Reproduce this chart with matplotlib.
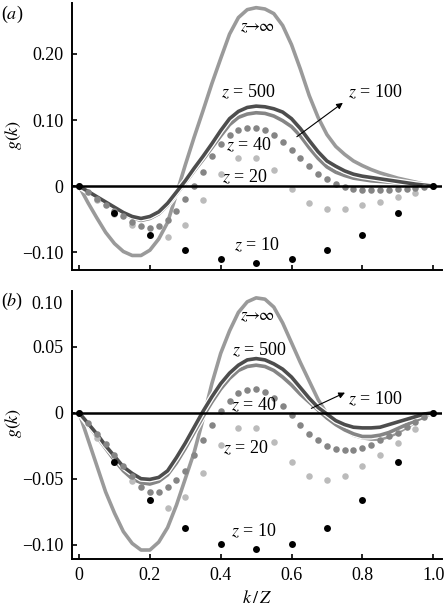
import numpy as np
import matplotlib
matplotlib.use('Agg')
import matplotlib.pyplot as plt
import matplotlib.patheffects as pe

plt.rcParams['font.family'] = ['Liberation Serif', 'DejaVu Serif']
plt.rcParams['mathtext.fontset'] = 'stix'

# k/Z grids: z=10 -> 11 points, z=20 -> 21 points, z=40 and curves -> 41 points
k10 = np.linspace(0, 1, 11)
k20 = np.linspace(0, 1, 21)
k40 = np.linspace(0, 1, 41)

#==============================================================================
# panel (a)
a_inf = [0, -0.025, -0.048, -0.070, -0.087, -0.099, -0.105, -0.105, -0.097, -0.080,
         -0.055, -0.012, 0.032, 0.074, 0.114, 0.155, 0.193, 0.230, 0.255, 0.267,
         0.270, 0.268, 0.261, 0.243, 0.214, 0.177, 0.137, 0.104, 0.078, 0.060,
         0.048, 0.038, 0.031, 0.025, 0.020, 0.016, 0.012, 0.009, 0.006, 0.003, 0]
a_500 = [0, -0.008, -0.016, -0.024, -0.032, -0.040, -0.046, -0.049, -0.046, -0.039,
         -0.026, -0.009, 0.008, 0.027, 0.045, 0.064, 0.084, 0.102, 0.113, 0.119,
         0.121, 0.120, 0.117, 0.112, 0.102, 0.087, 0.069, 0.052, 0.038, 0.030,
         0.023, 0.018, 0.015, 0.013, 0.011, 0.009, 0.007, 0.005, 0.003, 0.0015, 0]
a_100 = [0, -0.009, -0.018, -0.026, -0.034, -0.042, -0.048, -0.052, -0.049, -0.042,
         -0.029, -0.012, 0.005, 0.023, 0.040, 0.058, 0.076, 0.093, 0.104, 0.109,
         0.111, 0.110, 0.106, 0.099, 0.090, 0.076, 0.058, 0.042, 0.029, 0.021,
         0.016, 0.012, 0.010, 0.008, 0.007, 0.006, 0.005, 0.004, 0.002, 0.001, 0]
a_40 = [0, -0.009, -0.019, -0.028, -0.037, -0.046, -0.054, -0.060, -0.064, -0.061,
        -0.052, -0.037, -0.020, 0.000, 0.022, 0.045, 0.064, 0.077, 0.085, 0.088,
        0.088, 0.085, 0.077, 0.066, 0.055, 0.042, 0.031, 0.019, 0.010, 0.003,
        -0.002, -0.005, -0.006, -0.006, -0.006, -0.006, -0.005, -0.004, -0.003, -0.001, 0]
a_20 = [0, -0.021, -0.042, -0.059, -0.074, -0.077, -0.059, -0.021, 0.019, 0.043,
        0.043, 0.024, -0.004, -0.025, -0.035, -0.035, -0.029, -0.024, -0.016, -0.010, 0]
a_10 = [0, -0.041, -0.074, -0.097, -0.111, -0.116, -0.111, -0.097, -0.074, -0.041, 0]

# panel (b)
b_inf = [0, -0.020, -0.040, -0.060, -0.076, -0.090, -0.099, -0.104, -0.104, -0.098,
         -0.087, -0.070, -0.050, -0.030, -0.005, 0.022, 0.045, 0.062, 0.076, 0.084,
         0.087, 0.086, 0.080, 0.068, 0.053, 0.038, 0.024, 0.010, -0.001, -0.008,
         -0.013, -0.017, -0.019, -0.020, -0.020, -0.018, -0.015, -0.011, -0.007, -0.003, 0]
b_500 = [0, -0.008, -0.016, -0.025, -0.033, -0.041, -0.046, -0.050, -0.0505, -0.049,
         -0.044, -0.034, -0.023, -0.011, 0.001, 0.012, 0.022, 0.030, 0.036, 0.040,
         0.041, 0.040, 0.037, 0.033, 0.027, 0.019, 0.011, 0.004, -0.001, -0.006,
         -0.009, -0.011, -0.0115, -0.0115, -0.011, -0.009, -0.007, -0.005, -0.003, -0.001, 0]
b_100 = [0, -0.009, -0.018, -0.027, -0.036, -0.044, -0.050, -0.053, -0.054, -0.052,
         -0.047, -0.038, -0.027, -0.015, -0.003, 0.008, 0.018, 0.026, 0.032, 0.035,
         0.036, 0.035, 0.032, 0.027, 0.021, 0.014, 0.008, 0.002, -0.004, -0.009,
         -0.013, -0.016, -0.018, -0.018, -0.017, -0.015, -0.012, -0.009, -0.006, -0.003, 0]
b_40 = [0, -0.008, -0.016, -0.024, -0.032, -0.040, -0.048, -0.056, -0.060, -0.060,
        -0.056, -0.051, -0.044, -0.032, -0.021, -0.009, 0.001, 0.009, 0.015, 0.017,
        0.018, 0.016, 0.011, 0.005, -0.002, -0.009, -0.016, -0.021, -0.025, -0.0275,
        -0.028, -0.028, -0.0265, -0.0245, -0.021, -0.018, -0.015, -0.011, -0.007, -0.003, 0]
b_20 = [0, -0.019, -0.037, -0.052, -0.066, -0.072, -0.064, -0.046, -0.0245, -0.0114,
        -0.0114, -0.022, -0.0376, -0.048, -0.051, -0.0477, -0.040, -0.032, -0.0227, -0.012, 0]
b_10 = [0, -0.037, -0.066, -0.087, -0.0995, -0.1035, -0.0995, -0.087, -0.066, -0.037, 0]

xticks = [0, 0.2, 0.4, 0.6, 0.8, 1.0]
xticklabels = ['0', '0.2', '0.4', '0.6', '0.8', '1.0']

C_INF = '#9a9a9a'
C_500 = '#4d4d4d'
C_100 = '#858585'
C_40 = '#858585'
C_20 = '#bbbbbb'


def draw_panel(ax, inf, z500, z100, z40, z20, z10):
    white = [pe.Stroke(linewidth=4.4, foreground='white'), pe.Normal()]
    ax.plot(k40, inf, color=C_INF, lw=2.6, zorder=2, solid_capstyle='round')
    ax.plot(k40, z100, color=C_100, lw=2.6, zorder=3, path_effects=white)
    ax.plot(k40, z500, color=C_500, lw=2.6, zorder=4, path_effects=white)
    ax.plot(k20, z20, 'o', color=C_20, ms=4.7, mec='none', zorder=5)
    ax.plot(k40, z40, 'o', color=C_40, ms=4.7, mec='none', zorder=5)
    ax.axhline(0, color='black', lw=1.8, zorder=6)
    ax.plot(k10, z10, 'o', color='black', ms=5.0, mec='none', zorder=7)

    ax.set_xlim(-0.02, 1.025)
    ax.set_xticks(xticks)
    for side in ['top', 'right']:
        ax.spines[side].set_visible(False)
    for side in ['left', 'bottom']:
        ax.spines[side].set_linewidth(1.4)
    ax.tick_params(direction='in', length=3.5, width=1.2, labelsize=13, pad=6)


def label(ax, x, y, s, size=13):
    ax.text(x, y, s, ha='center', va='center', fontsize=size, zorder=8)


def arrow(ax, x0, y0, x1, y1):
    ax.annotate('', xy=(x1, y1), xytext=(x0, y0),
                arrowprops=dict(arrowstyle='-|>', color='black', lw=0.8,
                                mutation_scale=9, shrinkA=0, shrinkB=0),
                zorder=8)


fig = plt.figure(figsize=(4.48, 6.08), dpi=100)

#==============================================================================
# (a)
ax1 = fig.add_axes([0.1607, 0.5559, 0.8259, 0.4391])
draw_panel(ax1, a_inf, a_500, a_100, a_40, a_20, a_10)
ax1.set_ylim(-0.127, 0.277)
ax1.set_yticks([-0.10, 0, 0.10, 0.20])
ax1.set_yticklabels(['\u22120.10', '0', '0.10', '0.20'])
ax1.set_xticklabels([])

label(ax1, 0.503, 0.241, r'$z\!\!\rightarrow\!\!\infty$', 12)
label(ax1, 0.477, 0.142, r'$z$ = 500')
label(ax1, 0.836, 0.142, r'$z$ = 100')
arrow(ax1, 0.615, 0.0747, 0.745, 0.126)
label(ax1, 0.480, 0.062, r'$z$ = 40')
label(ax1, 0.469, 0.014, r'$z$ = 20')
label(ax1, 0.503, -0.089, r'$z$ = 10')

#==============================================================================
# (b)
ax2 = fig.add_axes([0.1607, 0.0806, 0.8259, 0.4408])
draw_panel(ax2, b_inf, b_500, b_100, b_40, b_20, b_10)
ax2.set_ylim(-0.1108, 0.0922)
ax2.set_yticks([-0.10, -0.05, 0, 0.05])
ax2.set_yticklabels(['\u22120.10', '\u22120.05', '0', '0.05'])
ax2.set_xticklabels(xticklabels)
# the 0.10 label sits near the top of the axis without a tick
ax2.text(-0.025, 0.948, '0.10', transform=ax2.transAxes, ha='right', va='center',
         fontsize=13)

label(ax2, 0.503, 0.0727, r'$z\!\!\rightarrow\!\!\infty$', 12)
label(ax2, 0.508, 0.0475, r'$z$ = 500')
label(ax2, 0.836, 0.0102, r'$z$ = 100')
arrow(ax2, 0.656, 0.0033, 0.751, 0.0152)
label(ax2, 0.492, 0.0058, r'$z$ = 40')
label(ax2, 0.470, -0.027, r'$z$ = 20')
label(ax2, 0.494, -0.0894, r'$z$ = 10')

ax2.set_xlabel(r'$k\,/\,Z$', fontsize=13, labelpad=4)

# panel letters and y labels
fig.text(0.002, 1 - 14 / 608, r'($a$)', fontsize=13, va='center', ha='left')
fig.text(0.002, 1 - 301 / 608, r'($b$)', fontsize=13, va='center', ha='left')
fig.text(14 / 448, 1 - 135 / 608, r'$g(k)$', fontsize=13, rotation=90,
         va='center', ha='center')
fig.text(14 / 448, 1 - 423 / 608, r'$g(k)$', fontsize=13, rotation=90,
         va='center', ha='center')

fig.savefig('out.png', dpi=100)
